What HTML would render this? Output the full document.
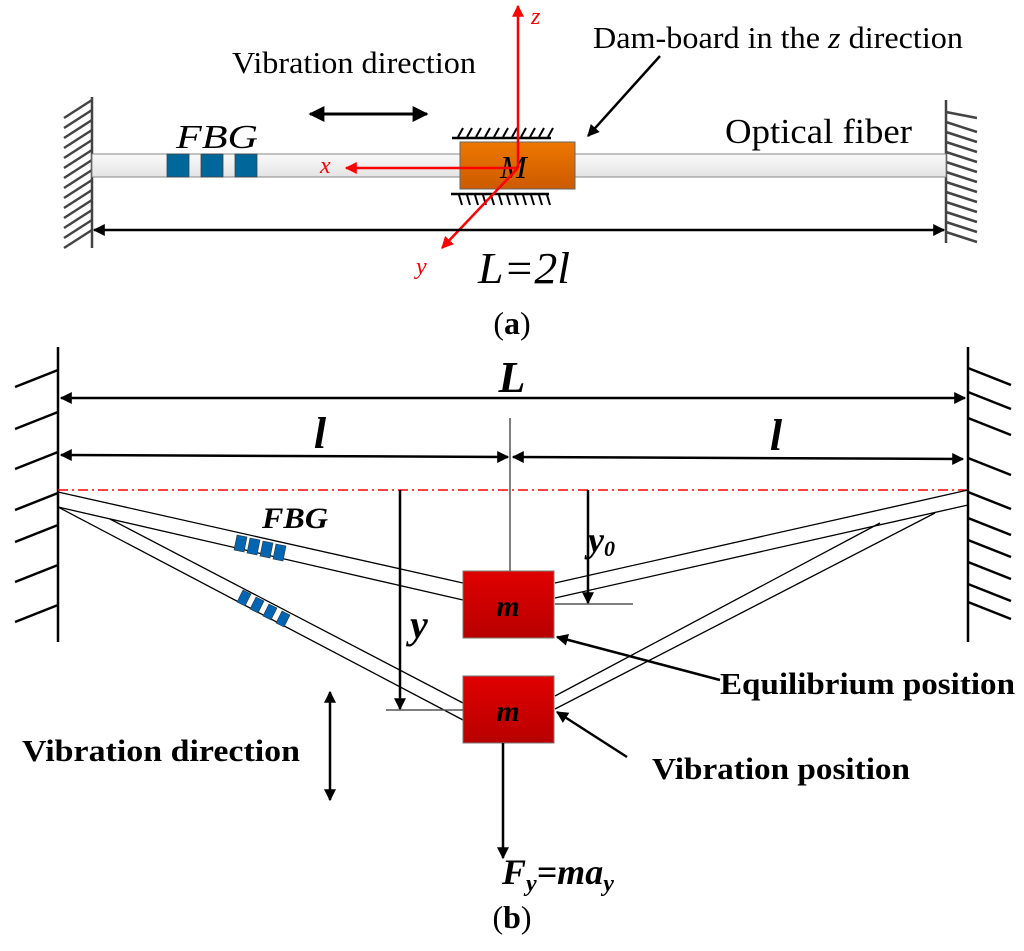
<!DOCTYPE html>
<html><head><meta charset="utf-8"><style>
html,body{margin:0;padding:0;background:#fff;}
svg{display:block;}
text{font-family:"Liberation Serif",serif;}
</style></head><body>
<svg width="1024" height="951" viewBox="0 0 1024 951" xmlns="http://www.w3.org/2000/svg">
<defs>
<marker id="abL" viewBox="0 0 10 10" refX="9" refY="5" markerWidth="20" markerHeight="16" orient="auto-start-reverse" markerUnits="userSpaceOnUse"><path d="M0,0 L10,5 L0,10 Z" fill="#000"/></marker>
<marker id="abM" viewBox="0 0 10 10" refX="9" refY="5" markerWidth="14" markerHeight="12" orient="auto-start-reverse" markerUnits="userSpaceOnUse"><path d="M0,0 L10,5 L0,10 Z" fill="#000"/></marker>
<marker id="ar" viewBox="0 0 10 10" refX="9" refY="5" markerWidth="14" markerHeight="12" orient="auto" markerUnits="userSpaceOnUse"><path d="M0,0 L10,5 L0,10 Z" fill="#f00"/></marker>
<linearGradient id="fib" x1="0" y1="0" x2="0" y2="1"><stop offset="0" stop-color="#fafafa"/><stop offset="1" stop-color="#e4e4e4"/></linearGradient>
<linearGradient id="org" x1="0" y1="0" x2="0" y2="1"><stop offset="0" stop-color="#ee7700"/><stop offset="1" stop-color="#cc5a00"/></linearGradient>
<linearGradient id="red" x1="0" y1="0" x2="0" y2="1"><stop offset="0" stop-color="#e00000"/><stop offset="1" stop-color="#b80000"/></linearGradient>
</defs>

<!-- ===== (a) ===== -->
<g stroke="#444" stroke-width="2.5">
<line x1="92" y1="97" x2="92" y2="248"/>
<line x1="946" y1="100" x2="946" y2="243"/>
</g>
<g stroke="#444" stroke-width="2.5">
<line x1="92" y1="100" x2="64" y2="118"/><line x1="92" y1="110" x2="64" y2="128"/><line x1="92" y1="120" x2="64" y2="138"/><line x1="92" y1="130" x2="64" y2="148"/><line x1="92" y1="140" x2="64" y2="158"/><line x1="92" y1="150" x2="64" y2="168"/><line x1="92" y1="160" x2="64" y2="178"/><line x1="92" y1="170" x2="64" y2="188"/><line x1="92" y1="180" x2="64" y2="198"/><line x1="92" y1="190" x2="64" y2="208"/><line x1="92" y1="200" x2="64" y2="218"/><line x1="92" y1="210" x2="64" y2="228"/><line x1="92" y1="220" x2="64" y2="238"/><line x1="92" y1="230" x2="64" y2="248"/>
<line x1="946" y1="112" x2="977" y2="118"/><line x1="946" y1="122" x2="977" y2="132"/><line x1="946" y1="132" x2="977" y2="142"/><line x1="946" y1="142" x2="977" y2="152"/><line x1="946" y1="152" x2="977" y2="162"/><line x1="946" y1="162" x2="977" y2="172"/><line x1="946" y1="172" x2="977" y2="182"/><line x1="946" y1="182" x2="977" y2="192"/><line x1="946" y1="192" x2="977" y2="202"/><line x1="946" y1="202" x2="977" y2="212"/><line x1="946" y1="212" x2="977" y2="222"/><line x1="946" y1="222" x2="977" y2="232"/><line x1="946" y1="232" x2="977" y2="242"/>
</g>
<rect x="92" y="154" width="854" height="23" fill="url(#fib)" stroke="#888" stroke-width="1"/>
<rect x="167" y="154" width="22" height="23" fill="#00679a" stroke="#444" stroke-width="0.8"/>
<rect x="201" y="154" width="22" height="23" fill="#00679a" stroke="#444" stroke-width="0.8"/>
<rect x="235" y="154" width="22" height="23" fill="#00679a" stroke="#444" stroke-width="0.8"/>
<text x="176" y="148" font-size="34" font-style="italic" textLength="82" lengthAdjust="spacingAndGlyphs">FBG</text>
<rect x="460" y="142" width="115" height="47" fill="url(#org)" stroke="#666" stroke-width="1"/>
<text x="500" y="178" font-size="32" font-style="italic">M</text>
<g stroke="#000" stroke-width="2.5">
<line x1="452" y1="138" x2="551" y2="138"/>
<line x1="451" y1="194" x2="549" y2="194"/>
</g>
<g stroke="#000" stroke-width="2">
<path d="M458,137l5,-9M467,137l5,-9M476,137l5,-9M485,137l5,-9M494,137l5,-9M503,137l5,-9M512,137l5,-9M521,137l5,-9M530,137l5,-9M539,137l5,-9M548,137l5,-9"/>
<path d="M459,195l3,10M467,195l3,10M475,195l3,10M483,195l3,10M491,195l3,10M499,195l3,10M507,195l3,10M515,195l3,10M523,195l3,10M531,195l3,10M539,195l3,10M547,195l3,10"/>
</g>
<g stroke="#f00" stroke-width="2.5" fill="none">
<line x1="518" y1="168" x2="518" y2="6" marker-end="url(#ar)"/>
<line x1="518" y1="168" x2="346" y2="168" marker-end="url(#ar)"/>
<line x1="518" y1="168" x2="442" y2="248" marker-end="url(#ar)"/>
</g>
<text x="531" y="24" font-size="24" font-style="italic" fill="#f00">z</text>
<text x="320" y="173" font-size="24" font-style="italic" fill="#f00">x</text>
<text x="416" y="274" font-size="24" font-style="italic" fill="#f00">y</text>
<text x="232" y="73" font-size="31" textLength="244" lengthAdjust="spacingAndGlyphs">Vibration direction</text>
<line x1="310" y1="114" x2="427" y2="114" stroke="#000" stroke-width="3" marker-start="url(#abL)" marker-end="url(#abL)"/>
<text x="593" y="48" font-size="31" textLength="370" lengthAdjust="spacingAndGlyphs">Dam-board in the <tspan font-style="italic">z</tspan> direction</text>
<line x1="660" y1="56" x2="588" y2="136" stroke="#000" stroke-width="2.5" marker-end="url(#abM)"/>
<text x="725" y="143" font-size="35" textLength="187" lengthAdjust="spacingAndGlyphs">Optical fiber</text>
<line x1="94" y1="230" x2="944" y2="230" stroke="#000" stroke-width="2.5" marker-start="url(#abM)" marker-end="url(#abM)"/>
<text x="478" y="283" font-size="44" font-style="italic" textLength="92" lengthAdjust="spacingAndGlyphs">L=2l</text>
<text x="512" y="334" font-size="32" text-anchor="middle">(<tspan font-weight="bold">a</tspan>)</text>

<!-- ===== (b) ===== -->
<g stroke="#000" stroke-width="2.5">
<line x1="58" y1="347" x2="58" y2="642"/>
<line x1="968" y1="347" x2="968" y2="642"/>
<path d="M58,370l-43,17M58,412l-43,17M58,452l-43,17M58,493l-43,17M58,525l-43,17M58,565l-43,17M58,605l-43,17"/>
<path d="M968,418l43,17M968,458l43,17M968,492l43,17M968,518l43,17M968,540l43,17M968,562l43,17M968,584l43,17M968,602l43,17M968,368l43,17M968,392l43,17"/>
</g>
<line x1="61" y1="398" x2="965" y2="398" stroke="#000" stroke-width="2.5" marker-start="url(#abM)" marker-end="url(#abM)"/>
<text x="512" y="392" font-size="44" font-style="italic" font-weight="bold" text-anchor="middle">L</text>
<line x1="61" y1="455" x2="508" y2="457" stroke="#000" stroke-width="2.5" marker-start="url(#abM)" marker-end="url(#abM)"/>
<line x1="513" y1="457" x2="963" y2="459" stroke="#000" stroke-width="2.5" marker-start="url(#abM)" marker-end="url(#abM)"/>
<text x="320" y="448" font-size="44" font-style="italic" font-weight="bold" text-anchor="middle">l</text>
<text x="776" y="450" font-size="44" font-style="italic" font-weight="bold" text-anchor="middle">l</text>
<line x1="510" y1="418" x2="510" y2="571" stroke="#000" stroke-width="1"/>
<line x1="58" y1="490" x2="968" y2="490" stroke="#f00" stroke-width="1.5" stroke-dasharray="10,4,2,4"/>
<g stroke="#000" stroke-width="1.3" fill="none">
<line x1="58" y1="492" x2="463" y2="583"/>
<line x1="58" y1="507" x2="463" y2="600"/>
<line x1="555" y1="583" x2="968" y2="490"/>
<line x1="555" y1="598" x2="968" y2="505"/>
<line x1="58" y1="507" x2="463" y2="720"/>
<line x1="110" y1="519" x2="463" y2="703"/>
<line x1="555" y1="696" x2="880" y2="523"/>
<line x1="555" y1="709" x2="935" y2="513"/>
</g>
<g fill="#0066b3" stroke="#333" stroke-width="0.6">
<polygon points="237,535 247,537 244,552 234,550"/>
<polygon points="250,538 260,540 257,555 247,553"/>
<polygon points="263,541 273,543 270,558 260,556"/>
<polygon points="276,544 286,546 283,561 273,559"/>
<polygon points="243,590 251,594 245,606 237,602"/>
<polygon points="256,597 264,601 258,613 250,609"/>
<polygon points="269,604 277,608 271,620 263,616"/>
<polygon points="282,611 290,615 284,627 276,623"/>
</g>
<text x="262" y="528" font-size="30" font-style="italic" font-weight="bold" textLength="66" lengthAdjust="spacingAndGlyphs">FBG</text>
<rect x="463" y="571" width="91" height="67" fill="url(#red)" stroke="#777" stroke-width="1"/>
<rect x="463" y="676" width="91" height="67" fill="url(#red)" stroke="#777" stroke-width="1"/>
<text x="508" y="616" font-size="30" font-style="italic" font-weight="bold" text-anchor="middle">m</text>
<text x="508" y="721" font-size="30" font-style="italic" font-weight="bold" text-anchor="middle">m</text>
<line x1="555" y1="604" x2="633" y2="604" stroke="#555" stroke-width="1.5"/>
<line x1="588" y1="490" x2="588" y2="603" stroke="#000" stroke-width="2.5" marker-end="url(#abM)"/>
<text x="588" y="552" font-size="36" font-style="italic" font-weight="bold">y<tspan font-size="22" dy="4">0</tspan></text>
<line x1="386" y1="710" x2="463" y2="710" stroke="#555" stroke-width="1.5"/>
<line x1="400" y1="490" x2="400" y2="709" stroke="#000" stroke-width="2.5" marker-end="url(#abM)"/>
<text x="410" y="638" font-size="40" font-style="italic" font-weight="bold">y</text>
<line x1="720" y1="680" x2="557" y2="637" stroke="#000" stroke-width="2.5" marker-end="url(#abM)"/>
<text x="720" y="694" font-size="31" font-weight="bold" textLength="295" lengthAdjust="spacingAndGlyphs">Equilibrium position</text>
<line x1="627" y1="757" x2="557" y2="712" stroke="#000" stroke-width="2.5" marker-end="url(#abM)"/>
<text x="652" y="779" font-size="31" font-weight="bold" textLength="258" lengthAdjust="spacingAndGlyphs">Vibration position</text>
<line x1="330" y1="692" x2="330" y2="800" stroke="#000" stroke-width="2.5" marker-start="url(#abM)" marker-end="url(#abM)"/>
<text x="22" y="761" font-size="31" font-weight="bold" textLength="278" lengthAdjust="spacingAndGlyphs">Vibration direction</text>
<line x1="503" y1="743" x2="503" y2="858" stroke="#000" stroke-width="2.5" marker-end="url(#abM)"/>
<text x="502" y="884" font-size="36" font-style="italic" font-weight="bold">F<tspan font-size="24" dy="7">y</tspan><tspan dy="-7">=ma</tspan><tspan font-size="24" dy="7">y</tspan></text>
<text x="512" y="928" font-size="32" text-anchor="middle">(<tspan font-weight="bold">b</tspan>)</text>
</svg>
</body></html>
